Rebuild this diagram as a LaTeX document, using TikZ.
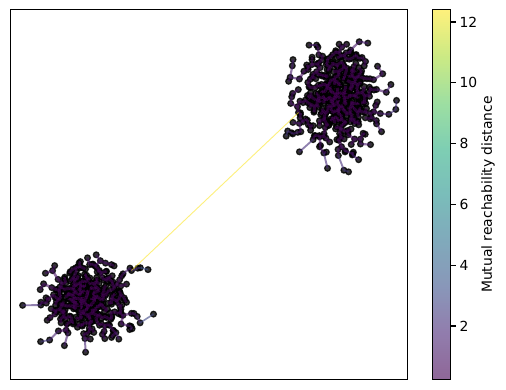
\documentclass[tikz,border=0pt]{standalone}
\usepackage{fontspec}
\setmainfont{DejaVu Sans}
% viridis (raw)
\definecolor{V0}{RGB}{68,1,84}
\definecolor{V1}{RGB}{71,39,119}
\definecolor{V2}{RGB}{59,82,139}
\definecolor{V3}{RGB}{44,114,142}
\definecolor{V4}{RGB}{33,145,140}
\definecolor{V5}{RGB}{40,174,128}
\definecolor{V6}{RGB}{94,201,98}
\definecolor{V7}{RGB}{170,220,50}
\definecolor{V8}{RGB}{253,231,37}
\definecolor{V9}{RGB}{253,231,37}
% viridis at alpha 0.6 on white
\definecolor{B0}{RGB}{143,103,152}
\definecolor{B1}{RGB}{145,125,173}
\definecolor{B2}{RGB}{137,151,185}
\definecolor{B3}{RGB}{128,170,187}
\definecolor{B4}{RGB}{122,189,186}
\definecolor{B5}{RGB}{126,206,179}
\definecolor{B6}{RGB}{158,223,161}
\definecolor{B7}{RGB}{204,234,132}
\definecolor{B8}{RGB}{254,241,124}
\definecolor{B9}{RGB}{254,241,124}

\newcount\rsI \newcount\rsRem \newcount\rsU \newcount\rsIdx \newcount\rsV
\newcount\rsD \newcount\rsBestD \newcount\rsBestIdx \newcount\rsE
\newcount\rsDX \newcount\rsDY \newcount\rsUX \newcount\rsUY

% #1 prefix, #2 N, #3 cx, #4 cy, #5 sx, #6 sy, #7 x0, #8 y0 (tenths of px)
\def\rsGen#1#2#3#4#5#6#7#8{%
  \expandafter\xdef\csname rs#1x0\endcsname{#7}%
  \expandafter\xdef\csname rs#1y0\endcsname{#8}%
  \pgfmathsetmacro\rsq{((#7/10-#3)/#5)^2+((#8/10-#4)/#6)^2}%
  \pgfmathsetmacro\rsc{4.6*exp(\rsq/4.5)}%
  \expandafter\xdef\csname rs#1c0\endcsname{\rsc}%
  \rsI=1
  \loop
    \pgfmathsetmacro\rsu{max(rnd,0.0001)}%
    \pgfmathsetmacro\rsr{sqrt(-2*ln(\rsu))}%
    \pgfmathsetmacro\rsa{360*rnd}%
    \pgfmathtruncatemacro\rsx{10*(#3+#5*\rsr*cos(\rsa))}%
    \pgfmathtruncatemacro\rsy{10*(#4+#6*\rsr*sin(\rsa))}%
    \pgfmathsetmacro\rsc{4.6*exp(\rsr*\rsr/4.5)}%
    \expandafter\xdef\csname rs#1x\the\rsI\endcsname{\rsx}%
    \expandafter\xdef\csname rs#1y\the\rsI\endcsname{\rsy}%
    \expandafter\xdef\csname rs#1c\the\rsI\endcsname{\rsc}%
    \advance\rsI by 1
  \ifnum\rsI<#2 \repeat
}

\def\rsPrimInner{%
  \rsV=\csname rs\rsP R\the\rsIdx\endcsname\relax
  \rsDX=\numexpr\rsUX-\csname rs\rsP x\the\rsV\endcsname\relax
  \rsDY=\numexpr\rsUY-\csname rs\rsP y\the\rsV\endcsname\relax
  \rsD=\numexpr\rsDX*\rsDX+\rsDY*\rsDY\relax
  \ifnum\rsD<\csname rs\rsP D\the\rsV\endcsname\relax
    \expandafter\xdef\csname rs\rsP D\the\rsV\endcsname{\the\rsD}%
    \expandafter\xdef\csname rs\rsP P\the\rsV\endcsname{\the\rsU}%
  \else
    \rsD=\csname rs\rsP D\the\rsV\endcsname\relax
  \fi
  \ifnum\rsD<\rsBestD \rsBestD=\rsD \rsBestIdx=\rsIdx \fi
  \advance\rsIdx by 1
  \ifnum\rsIdx<\rsRem \expandafter\rsPrimInner\fi
}
\def\rsPrimOuter{%
  \rsUX=\csname rs\rsP x\the\rsU\endcsname\relax
  \rsUY=\csname rs\rsP y\the\rsU\endcsname\relax
  \rsBestD=2147483647 \rsBestIdx=0 \rsIdx=0
  \rsPrimInner
  \rsV=\csname rs\rsP R\the\rsBestIdx\endcsname\relax
  \expandafter\xdef\csname rs\rsP Ea\the\rsE\endcsname{\csname rs\rsP P\the\rsV\endcsname}%
  \expandafter\xdef\csname rs\rsP Eb\the\rsE\endcsname{\the\rsV}%
  \advance\rsE by 1
  \advance\rsRem by -1
  \expandafter\xdef\csname rs\rsP R\the\rsBestIdx\endcsname{\csname rs\rsP R\the\rsRem\endcsname}%
  \rsU=\rsV
  \ifnum\rsRem>0 \expandafter\rsPrimOuter\fi
}
\def\rsPrim#1#2{%
  \def\rsP{#1}%
  \rsRem=\numexpr#2-1\relax
  \rsI=1
  \loop
    \expandafter\xdef\csname rs#1D\the\rsI\endcsname{2000000000}%
    \expandafter\xdef\csname rs#1R\number\numexpr\rsI-1\relax\endcsname{\the\rsI}%
    \advance\rsI by 1
  \ifnum\rsI<#2 \repeat
  \rsU=0 \rsE=0
  \rsPrimOuter
  \expandafter\xdef\csname rs#1NE\endcsname{\the\numexpr\rsE-1\relax}%
}

\pgfmathsetseed{4711}
\rsGen{A}{440}{86}{300}{21}{18}{1315}{2705}
\rsGen{B}{520}{338}{97}{19}{24}{2985}{1125}
\rsPrim{A}{440}
\rsPrim{B}{520}

\def\rsNodes#1#2{%
  \foreach \i in {0,...,#2} {%
    \edef\rsxx{\csname rs#1x\i\endcsname}%
    \edef\rsyy{\csname rs#1y\i\endcsname}%
    \coordinate (#1\i) at (\rsxx,\rsyy);
    \path[ptstyle] (#1\i) circle[radius=2.9pt];
  }}
\def\rsEdgeDraw#1#2{%
  \pgfmathsetmacro\rsv{max(\rsv,0.25)}%
  \pgfmathsetmacro\rsw{0.65*(ln(12.4/\rsv)+1)}%
  \pgfmathsetmacro\rst{min(max((\rsv-0.25)/12.15,0),1)}%
  \pgfmathtruncatemacro\rsk{min(8*\rst,7.999)}%
  \pgfmathtruncatemacro\rskk{\rsk+1}%
  \pgfmathtruncatemacro\rspct{100*(1-(8*\rst-\rsk))}%
  \colorlet{rsec}{V\rsk!\rspct!V\rskk}%
  \draw[edgestyle,draw=rsec,line width=\rsw pt] #1 -- #2;
}
\def\rsEdges#1{%
  \edef\rsn{\csname rs#1NE\endcsname}%
  \foreach \e in {0,...,\rsn} {%
    \edef\rsea{\csname rs#1Ea\e\endcsname}%
    \edef\rseb{\csname rs#1Eb\e\endcsname}%
    \edef\rsdd{\the\numexpr((\csname rs#1x\rsea\endcsname-\csname rs#1x\rseb\endcsname)*(\csname rs#1x\rsea\endcsname-\csname rs#1x\rseb\endcsname)+(\csname rs#1y\rsea\endcsname-\csname rs#1y\rseb\endcsname)*(\csname rs#1y\rsea\endcsname-\csname rs#1y\rseb\endcsname))/100\relax}%
    \edef\rsca{\csname rs#1c\rsea\endcsname}%
    \edef\rscb{\csname rs#1c\rseb\endcsname}%
    \pgfmathsetmacro\rsv{max(max(sqrt(\rsdd),\rsca),\rscb)/18.55}%
    \rsEdgeDraw{(#1\rsea)}{(#1\rseb)}%
  }}

\begin{document}
\begin{tikzpicture}[x=1pt,y=-1pt,font=\fontsize{13.9}{16.7}\selectfont,
  ptstyle/.style={fill=black,draw=black,fill opacity=0.8,draw opacity=0.8,line width=1.2pt},
  edgestyle/.style={draw opacity=0.6,line cap=butt},
  framestyle/.style={draw=black,line width=1.1pt}]
\useasboundingbox (0,0) rectangle (506,389);
\fill[white] (0,0) rectangle (506,389);
% scatter + spanning tree
\begin{scope}[x=0.1pt,y=-0.1pt]
  \rsNodes{A}{439}
  \rsNodes{B}{519}
  \rsEdges{A}
  \rsEdges{B}
  \draw[edgestyle,draw=V8,line width=0.9pt] (A0) -- (B0);
\end{scope}
% axes frame
\draw[framestyle] (10.5,9.7) rectangle (407.3,379.3);
% colorbar
\foreach \s in {0,...,184} {
  \pgfmathsetmacro\rst{(\s+0.5)/185}
  \pgfmathtruncatemacro\rsk{min(8*\rst,7.999)}
  \pgfmathtruncatemacro\rskk{\rsk+1}
  \pgfmathtruncatemacro\rspct{100*(1-(8*\rst-\rsk))}
  \colorlet{rscb}{B\rsk!\rspct!B\rskk}
  \pgfmathsetmacro\rsyb{379.3-\s*1.99784}
  \fill[rscb] (432.3,\rsyb) rectangle (450.7,{\rsyb-2.4});
}
\draw[framestyle] (432.3,9.7) rectangle (450.7,379.3);
\foreach \v in {2,4,...,12} {
  \pgfmathsetmacro\ty{326-(\v-2)*30.4}
  \draw[framestyle] (450.7,\ty) -- (455.6,\ty);
  \node[anchor=west,inner sep=0pt] (tick\v) at (459.3,\ty) {\v};
}
\node[rotate=90,inner sep=0pt] (cblabel) at (488,194.5) {Mutual reachability distance};
\end{tikzpicture}
\end{document}
